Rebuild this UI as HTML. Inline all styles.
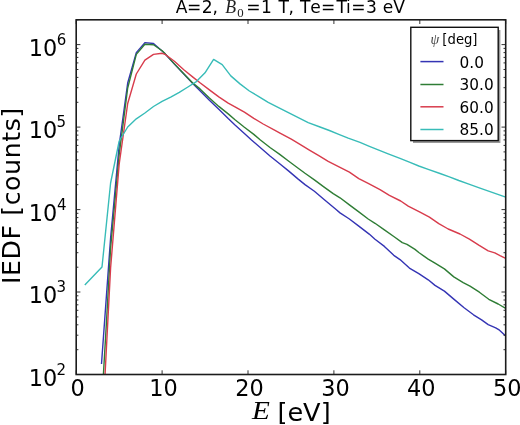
<!DOCTYPE html>
<html><head><meta charset="utf-8"><style>
html,body{margin:0;padding:0;background:#fff;}
body{width:520px;height:425px;overflow:hidden;}
svg{display:block;}
text{font-family:"DejaVu Sans","Liberation Sans",sans-serif;fill:#000;}
.tk{font-size:22.4px;}
.sup{font-size:15.0px;}
.lg{font-size:15.3px;}
.mi{font-family:"Liberation Serif","DejaVu Serif",serif;font-style:italic;}
.rm{font-family:"Liberation Serif","DejaVu Serif",serif;}
</style></head><body>
<svg width="520" height="425" viewBox="0 0 520 425">
<rect width="520" height="425" fill="#fff"/>
<defs><clipPath id="ax"><rect x="76.2" y="19.8" width="429.5" height="354.7"/></clipPath></defs>
<g clip-path="url(#ax)" fill="none" stroke-width="1.4" stroke-linejoin="round">
<polyline points="101.5,364.0 110.6,238.0 119.2,145.0 127.7,83.0 136.3,52.6 144.9,42.6 153.5,43.5 162.1,51.0 165.0,53.8 174.4,64.1 183.8,74.0 193.2,83.9 200.0,90.8 209.4,100.2 218.8,109.2 228.2,118.6 235.0,125.1 244.4,133.4 251.5,140.0 270.0,156.0 279.4,163.5 288.8,171.1 298.2,179.1 305.0,184.6 314.4,191.2 323.8,199.2 336.1,209.5 340.0,212.9 349.4,219.0 358.8,226.1 369.2,234.1 375.0,239.3 384.4,246.4 393.8,255.3 400.0,259.6 409.4,268.1 418.8,273.7 428.2,279.8 435.0,285.4 444.4,291.1 453.8,299.1 464.1,307.7 473.5,314.8 481.6,319.9 488.2,324.6 495.7,327.9 499.5,330.2 505.7,336.0" stroke="#3434b4"/>
<polyline points="102.6,388.0 106.3,325.0 110.6,248.0 119.2,154.5 127.7,88.0 136.3,54.4 144.9,44.3 153.5,44.7 162.1,50.8 165.0,53.6 174.4,63.9 183.8,73.8 193.2,83.4 200.0,88.9 209.4,97.9 218.8,106.4 228.2,113.9 235.0,119.8 244.4,127.3 253.8,134.4 260.4,140.0 270.0,147.5 279.4,154.1 288.8,161.2 298.2,168.2 305.0,173.3 314.4,179.9 323.8,186.9 333.2,193.6 340.0,197.8 349.4,204.9 358.8,211.9 368.2,219.0 375.0,223.3 384.4,229.9 393.8,236.5 402.3,242.6 407.0,244.3 415.0,249.4 418.8,252.5 428.2,259.1 435.0,263.2 444.4,268.9 453.8,276.9 463.2,282.6 470.0,286.1 479.4,292.2 488.8,299.3 498.2,304.0 505.7,308.3" stroke="#2f7d35"/>
<polyline points="102.0,433.0 110.6,268.0 119.2,164.0 127.7,103.5 136.3,74.0 144.9,60.2 153.5,54.4 162.1,53.3 165.0,54.3 174.4,61.3 183.8,69.8 193.2,77.4 200.0,82.8 209.4,89.9 218.8,96.9 228.2,103.1 235.0,106.8 244.4,112.2 253.8,118.4 263.2,124.0 275.0,130.3 280.0,133.1 291.3,139.2 300.0,144.4 309.4,150.1 318.8,155.7 328.2,161.4 340.0,167.3 349.4,172.2 358.8,178.6 368.2,183.3 380.0,189.6 389.4,195.4 400.7,201.0 408.2,206.2 420.0,212.2 429.4,217.2 438.8,223.6 448.2,229.0 460.0,234.0 469.4,239.1 478.8,245.2 488.2,250.9 494.8,252.8 500.0,255.6 505.7,258.3" stroke="#d83c4c"/>
<polyline points="84.8,285.0 93.4,276.0 102.0,267.0 110.6,183.0 119.2,141.0 127.7,127.0 136.3,118.8 144.9,113.0 153.5,106.5 162.1,101.3 170.7,97.1 179.3,92.3 187.9,87.0 196.4,81.6 205.0,72.8 213.6,59.4 222.2,64.6 230.8,75.9 240.0,83.9 249.4,91.0 258.8,96.6 268.2,102.3 280.0,108.3 289.4,113.2 298.8,117.9 308.2,122.6 320.0,127.0 329.4,130.5 338.8,134.3 348.2,138.1 360.0,142.4 369.4,146.3 378.8,150.1 388.2,153.8 400.0,158.3 409.4,162.2 418.8,166.0 428.2,169.3 440.0,173.5 449.4,176.8 458.8,180.5 468.2,183.8 480.0,188.1 505.7,197.2" stroke="#38bcb8"/>
</g>
<path d="M76.2 374.5v-4.2M76.2 19.8v4.2M162.1 374.5v-4.2M162.1 19.8v4.2M248.0 374.5v-4.2M248.0 19.8v4.2M333.9 374.5v-4.2M333.9 19.8v4.2M419.8 374.5v-4.2M419.8 19.8v4.2M505.7 374.5v-4.2M505.7 19.8v4.2M76.2 374.5h4.2M505.7 374.5h-4.2M76.2 292.0h4.2M505.7 292.0h-4.2M76.2 209.6h4.2M505.7 209.6h-4.2M76.2 127.1h4.2M505.7 127.1h-4.2M76.2 44.6h4.2M505.7 44.6h-4.2M76.2 349.7h2.2M505.7 349.7h-2.2M76.2 335.2h2.2M505.7 335.2h-2.2M76.2 324.8h2.2M505.7 324.8h-2.2M76.2 316.9h2.2M505.7 316.9h-2.2M76.2 310.3h2.2M505.7 310.3h-2.2M76.2 304.8h2.2M505.7 304.8h-2.2M76.2 300.0h2.2M505.7 300.0h-2.2M76.2 295.8h2.2M505.7 295.8h-2.2M76.2 267.2h2.2M505.7 267.2h-2.2M76.2 252.7h2.2M505.7 252.7h-2.2M76.2 242.4h2.2M505.7 242.4h-2.2M76.2 234.4h2.2M505.7 234.4h-2.2M76.2 227.9h2.2M505.7 227.9h-2.2M76.2 222.3h2.2M505.7 222.3h-2.2M76.2 217.6h2.2M505.7 217.6h-2.2M76.2 213.3h2.2M505.7 213.3h-2.2M76.2 184.7h2.2M505.7 184.7h-2.2M76.2 170.2h2.2M505.7 170.2h-2.2M76.2 159.9h2.2M505.7 159.9h-2.2M76.2 151.9h2.2M505.7 151.9h-2.2M76.2 145.4h2.2M505.7 145.4h-2.2M76.2 139.9h2.2M505.7 139.9h-2.2M76.2 135.1h2.2M505.7 135.1h-2.2M76.2 130.9h2.2M505.7 130.9h-2.2M76.2 102.3h2.2M505.7 102.3h-2.2M76.2 87.7h2.2M505.7 87.7h-2.2M76.2 77.4h2.2M505.7 77.4h-2.2M76.2 69.5h2.2M505.7 69.5h-2.2M76.2 62.9h2.2M505.7 62.9h-2.2M76.2 57.4h2.2M505.7 57.4h-2.2M76.2 52.6h2.2M505.7 52.6h-2.2M76.2 48.4h2.2M505.7 48.4h-2.2M76.2 19.8h2.2M505.7 19.8h-2.2" stroke="#333" stroke-width="1.0" fill="none"/>
<rect x="76.2" y="19.8" width="429.5" height="354.7" fill="none" stroke="#1c1c1c" stroke-width="1.6"/>
<!-- legend -->
<rect x="413.0" y="30.0" width="87.4" height="113.0" fill="#777" opacity="0.75"/>
<rect x="410.8" y="27.3" width="87.4" height="113.3" fill="#fff" stroke="#111" stroke-width="1.4"/>
<text x="430.47" y="43.6" class="mi" style="font-size:14px;fill:#444">ψ</text><text x="442.37" y="43.6" style="font-size:13.2px">[deg]</text>
<g stroke-width="1.5">
<path d="M420.4 61.6H443.5" stroke="#3434b4"/>
<path d="M420.4 84.5H443.5" stroke="#2f7d35"/>
<path d="M420.4 106.8H443.5" stroke="#d83c4c"/>
<path d="M420.4 129.5H443.5" stroke="#38bcb8"/>
</g>
<text x="459.6" y="68.0" class="lg">0.0</text>
<text x="459.6" y="90.4" class="lg">30.0</text>
<text x="459.6" y="112.8" class="lg">60.0</text>
<text x="459.6" y="135.2" class="lg">85.0</text>
<text x="28.64 42.89" y="385.6" class="tk">10</text><text x="56.60" y="374.8" class="sup">2</text><text x="28.64 42.89" y="303.1" class="tk">10</text><text x="56.56" y="292.3" class="sup">3</text><text x="28.64 42.89" y="220.7" class="tk">10</text><text x="56.97" y="209.9" class="sup">4</text><text x="28.64 42.89" y="138.2" class="tk">10</text><text x="56.54" y="127.4" class="sup">5</text><text x="28.64 42.89" y="55.7" class="tk">10</text><text x="56.65" y="44.9" class="sup">6</text>
<text x="77.7" y="395.6" text-anchor="middle" class="tk">0</text><text x="163.6" y="395.6" text-anchor="middle" class="tk">10</text><text x="249.5" y="395.6" text-anchor="middle" class="tk">20</text><text x="335.4" y="395.6" text-anchor="middle" class="tk">30</text><text x="421.3" y="395.6" text-anchor="middle" class="tk">40</text><text x="507.2" y="395.6" text-anchor="middle" class="tk">50</text>
<text x="175.67 186.99 201.85 212.48" y="13.2" style="font-size:17.1px">A=2,</text>
<text x="225.23" y="13.2" class="mi" style="font-size:17.8px;fill:#222">B</text>
<text x="237.21" y="17.4" class="rm" style="font-size:12.8px;fill:#222">0</text>
<text x="246.29 261.12 272.00 278.45 288.58 293.00 300.05 310.26 320.89 336.55 346.09 351.19 366.00 377.00 382.86 393.37" y="13.2" style="font-size:17.1px">=1 T, Te=Ti=3 eV</text>
<text transform="translate(19.8 283.9) rotate(-90)" style="font-size:25.2px" textLength="176.1" lengthAdjust="spacing">IEDF [counts]</text>
<text transform="translate(251.9 419.2) scale(1.17 1)" class="mi" style="font-size:25px">E</text>
<text x="277.4" y="420.6" style="font-size:25.6px">[eV]</text>
</svg>
</body></html>
